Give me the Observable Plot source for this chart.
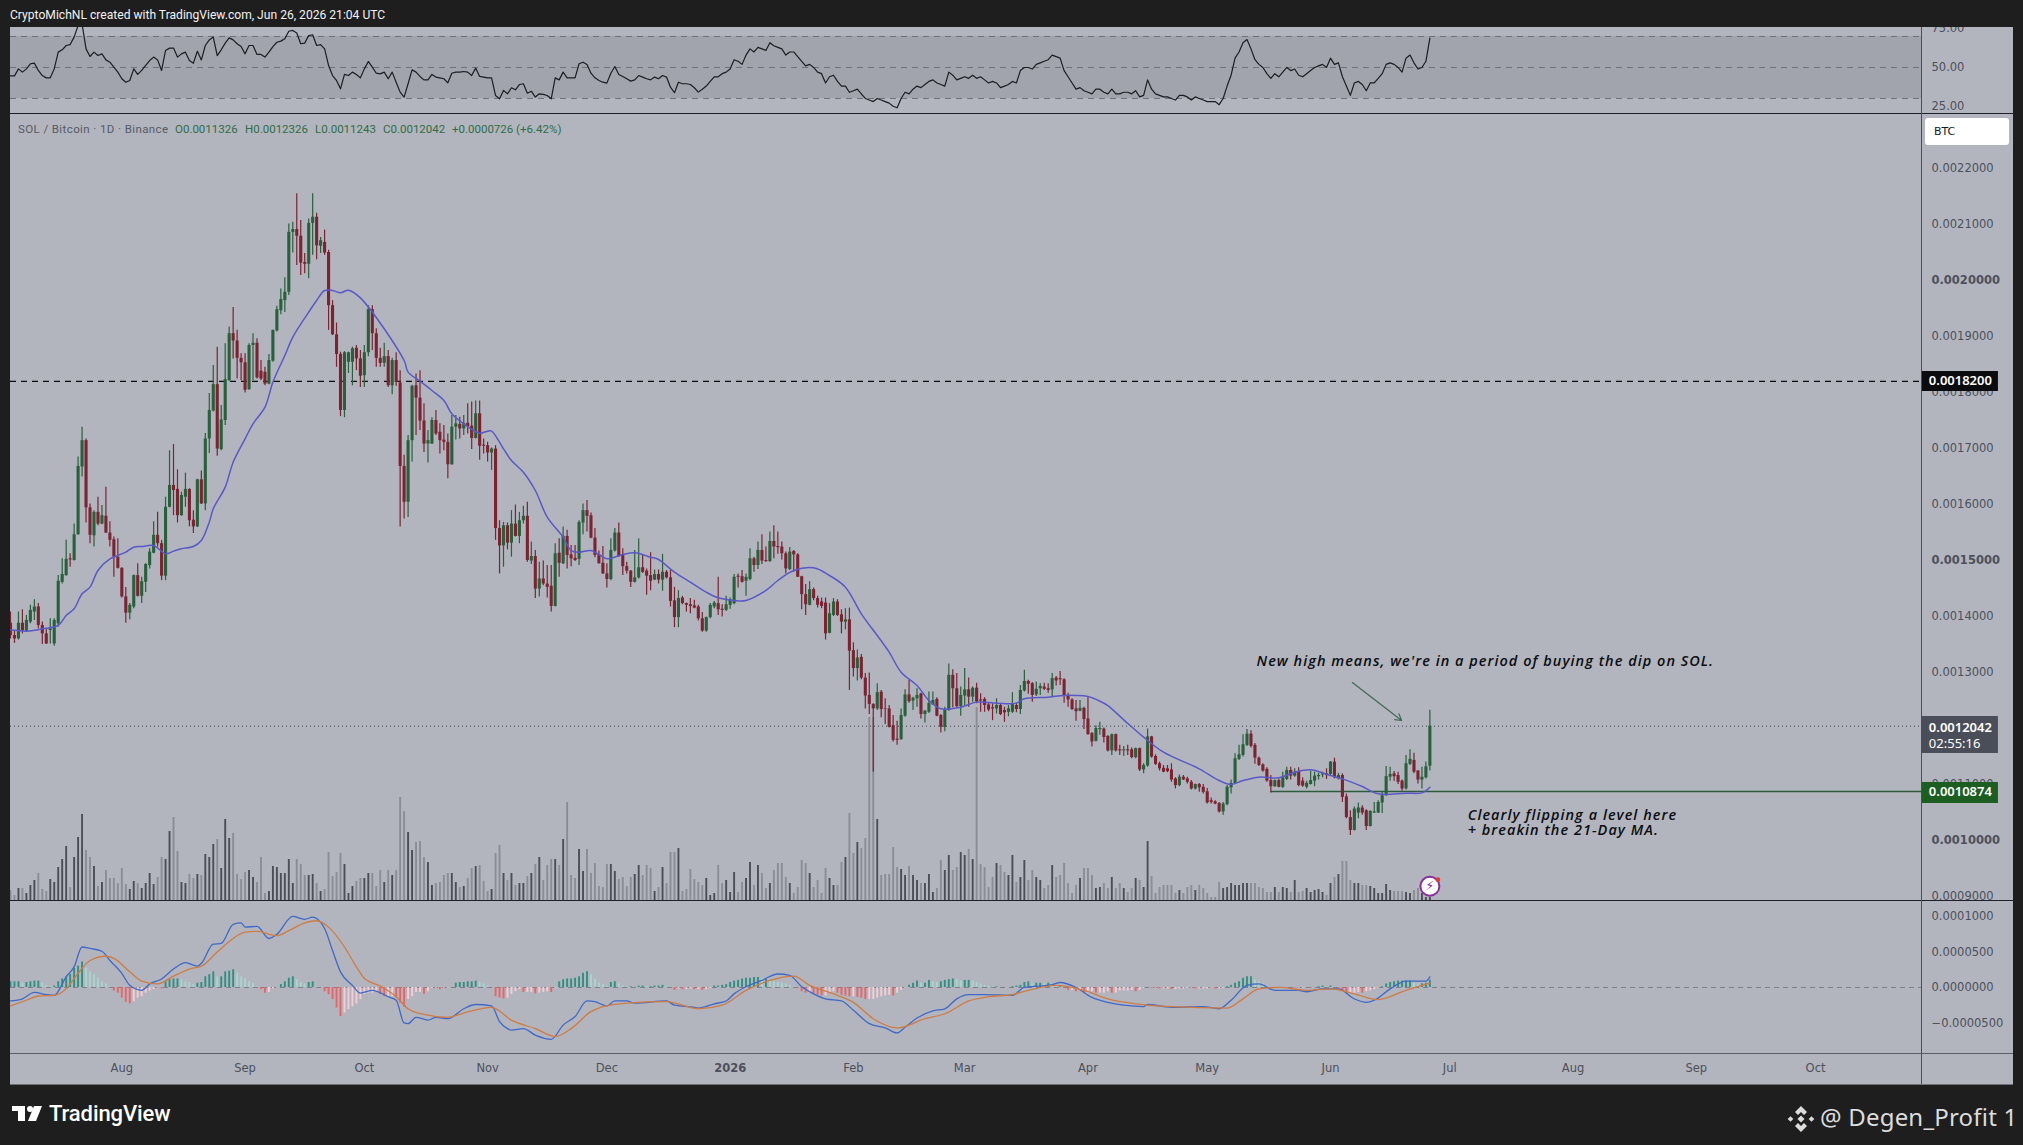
<!DOCTYPE html>
<html><head><meta charset="utf-8">
<script src="https://cdn.jsdelivr.net/npm/d3@7"></script>
<script src="https://cdn.jsdelivr.net/npm/@observablehq/plot@0.6"></script>
<style>
html,body{margin:0;padding:0;background:#1e1e1e;overflow:hidden}
#root{position:relative;width:2023px;height:1145px;background:#1e1e1e;font-family:Roboto,sans-serif;overflow:hidden}
#panel{position:absolute;left:10px;top:27px;width:2003px;height:1057px;background:#b2b5be}
.abs{position:absolute;white-space:pre}
.pane{position:absolute;left:10px}
.ln{position:absolute}
g[font-style="italic"] text{letter-spacing:1.03px}
</style></head><body><div id="root"><div id="panel"></div></div>
<script>
// prices in units of 0.0000001, one entry per daily candle starting 2025-07-04
const firstDay = new Date(Date.UTC(2025,6,4));
const opens = [13880,13660,13600,13880,13740,13900,14080,14170,13840,13690,
13750,13510,13870,14610,14730,15030,15000,15460,16670,17140,
15940,15440,15860,15650,15790,15490,15370,15060,14860,14350,
14060,14170,14730,14360,14610,14910,15130,15450,15300,14720,
15950,16340,16270,15800,16130,16270,15720,15600,16440,16010,
17170,17670,18140,16980,17500,18210,19050,18920,18610,18530,
18050,18840,18880,18380,18360,18150,18560,19100,19460,19640,
19790,20860,20910,20790,20320,20290,21020,21130,20610,20680,
20500,19550,19030,18680,17680,18540,18540,18790,18600,18300,
18710,19480,19050,18610,18520,18640,18120,18570,18170,16680,
16040,17140,18120,17900,17490,17080,17080,17500,17290,17150,
17110,16710,17380,17430,17350,17450,17400,17180,17620,17060,
17050,16920,16990,15570,15260,15620,15310,15650,15430,15710,
15790,14990,15070,14490,14670,14580,14540,14180,15130,14940,
15430,15100,15040,15020,15670,15890,15800,15400,15100,14950,
14760,14660,15170,15490,15090,14890,14810,14610,14690,14870,
14810,14730,14650,14750,14650,14790,14690,14280,13980,14330,
14230,14210,14190,14170,13960,13740,13980,14170,14230,14130,
14110,14200,14230,14720,14710,14630,14660,15030,14910,15180,
15000,14980,15340,15250,15240,15120,14840,15160,15100,14710,
14390,14200,14480,14320,14260,14240,13700,14020,14260,14030,
13900,13940,13390,13070,13270,12900,12590,12430,12350,12650,
12350,12350,12050,11810,11800,12220,12600,12490,12530,12620,
12250,12290,12420,12520,12230,12020,12320,12950,12710,12390,
12580,12690,12560,12720,12510,12520,12420,12370,12350,12410,
12320,12290,12290,12410,12340,12670,12840,12800,12600,12710,
12740,12710,12690,12900,12890,12870,12590,12510,12350,12310,
12360,12170,11910,11770,11980,11990,11860,11600,11890,11620,
11600,11620,11620,11480,11640,11260,11330,11850,11500,11370,
11290,11280,11260,11100,10980,11130,11100,11040,10920,11000,
10950,10870,10710,10690,10660,10510,10640,10940,11020,11450,
11520,11700,11900,11700,11470,11350,11270,11070,10960,11070,
10950,11090,11250,11150,11230,11060,10950,11000,11060,11140,
11170,11190,11180,11400,11100,11160,10780,10410,10180,10490,
10580,10530,10250,10490,10490,10670,10800,11130,11190,11160,
11060,10920,11360,11430,11240,11080,11120,11326];
const closes = [13660,13600,13880,13740,13930,14110,14170,13840,13690,13510,
13780,13930,14630,14750,15020,15010,15460,16680,17140,15940,
15450,15860,15650,15800,15490,15360,15060,14860,14350,14060,
14200,14730,14360,14620,14930,15150,15450,15300,14720,15950,
16340,16250,15800,16160,16270,15710,15600,16440,16010,17170,
17680,18140,16990,17510,18230,19050,18920,18610,18530,18040,
18840,18880,18260,18240,18150,18570,19110,19480,19660,19790,
20860,20910,20790,20310,20290,21020,21130,20620,20710,20490,
19550,19030,18680,17680,18710,18710,18780,18600,18290,18710,
19480,19050,18610,18520,18640,18120,18570,18180,16680,16040,
17140,18110,17900,17490,17080,17140,17500,17260,17140,17110,
16710,17380,17440,17350,17450,17390,17180,17620,17040,17040,
16920,16990,15570,15260,15620,15310,15650,15430,15710,15790,
15000,15070,14490,14670,14580,14520,14180,15120,14950,15430,
15090,15030,15000,15680,15890,15790,15400,15090,14940,14760,
14660,15180,15490,15070,14890,14810,14610,14690,14870,14790,
14720,14630,14750,14650,14790,14690,14270,13980,14320,14230,
14200,14180,14150,13960,13740,13980,14200,14240,14120,14110,
14210,14300,14700,14700,14610,14700,15030,14910,15180,14990,
14980,15340,15240,15230,15120,14850,15150,15100,14700,14390,
14210,14480,14320,14200,14180,13690,14050,14260,14020,13900,
13940,13380,13070,13260,12900,12580,12430,12350,12640,12340,
12340,12020,11790,11790,12230,12600,12480,12540,12590,12250,
12310,12450,12500,12220,12020,12330,12950,12710,12390,12590,
12690,12560,12720,12470,12490,12410,12330,12350,12410,12250,
12280,12350,12430,12340,12680,12840,12790,12590,12700,12750,
12700,12680,12890,12850,12870,12570,12510,12340,12300,12360,
12160,11890,11760,12000,12000,11840,11600,11890,11600,11600,
11620,11600,11480,11640,11260,11340,11850,11490,11360,11280,
11220,11230,11080,10980,11130,11080,11040,10920,11000,10940,
10860,10670,10680,10650,10510,10650,10950,11020,11460,11530,
11710,11900,11680,11470,11340,11240,11060,10960,11070,10950,
11120,11250,11150,11220,10980,10970,11020,11070,11150,11160,
11190,11160,11400,11120,11160,10770,10410,10180,10560,10580,
10490,10250,10520,10510,10680,10800,11140,11180,11140,11040,
10920,11370,11450,11220,11080,11130,11316,12042];
const highs = [14080,13750,14080,14120,14020,14200,14300,14230,13900,13780,
13960,13960,14730,15030,15360,15120,15650,16850,17380,17170,
16010,15890,16130,15980,16310,15690,15420,15390,14870,14520,
14230,14740,14940,14700,14940,15210,15690,15860,15360,16130,
16960,17070,16620,16220,16560,16280,15890,16450,16600,17270,
17980,18480,18810,17770,18870,19170,19520,19110,18690,18690,
18870,19050,18960,18570,18450,18680,19110,19540,19850,20050,
21010,21040,21550,21070,20480,21100,21550,21200,20770,20900,
20540,19640,19240,18720,18730,18720,18810,18840,18750,18840,
19550,19550,19140,18790,18880,18750,18610,18710,18390,16880,
17230,18130,18330,18390,17800,17320,17550,17680,17440,17410,
17260,17590,17590,17560,17590,17800,17830,17850,17850,17170,
17110,17010,17050,15710,15680,15670,15890,15990,15860,15970,
16040,15330,15180,14970,14990,14910,14910,15300,15390,15600,
15540,15270,15270,15710,16010,16070,15850,15570,15170,15250,
14940,15390,15570,15670,15210,14970,14820,15180,15390,15090,
14850,15140,14830,14830,15110,14820,14820,14520,14460,14360,
14240,14320,14290,14200,14070,13990,14230,14270,14700,14210,
14360,14330,14750,14760,14820,14760,15210,15060,15330,15460,
15240,15510,15620,15510,15330,15150,15230,15180,15120,14720,
14570,14620,14510,14360,14330,14330,14230,14320,14300,14120,
14140,14150,13530,13400,13320,12980,12990,12440,12800,12680,
12530,12410,12230,12130,12350,12690,12860,12560,12710,12630,
12320,12650,12650,12550,12250,12380,13150,13050,12980,12740,
13070,12900,12740,12810,12620,12550,12450,12440,12530,12440,
12380,12410,12640,12450,12770,13040,12860,12820,12830,12800,
12810,12800,12980,12930,13020,12890,12630,12530,12500,12500,
12380,12550,11930,12050,12110,12010,11870,11900,11900,11700,
11680,11700,11650,11650,11650,11370,11990,11860,11530,11400,
11340,11340,11370,11120,11170,11160,11130,11070,11010,11020,
11000,10930,10760,10710,10680,10680,10980,11080,11550,11700,
11890,11980,11960,11730,11490,11370,11300,11160,11080,11100,
11220,11310,11310,11280,11300,11120,11060,11240,11220,11200,
11220,11280,11410,11470,11200,11190,10830,10530,10600,10670,
10620,10550,10530,10680,10710,10860,11320,11310,11230,11220,
11080,11520,11620,11560,11250,11310,11400,12326];
const lows = [13600,13520,13580,13690,13720,13870,13930,13780,13500,13500,
13510,13470,13810,14580,14720,14880,14990,15450,16490,15670,
15300,15240,15620,15640,15480,15240,14700,14850,14330,13880,
13940,14140,14350,14230,14430,14850,15120,15240,14640,14640,
15940,15800,15670,15790,15950,15600,15480,15590,16000,15890,
16910,17650,16860,16960,17410,18200,18600,18240,18210,17990,
18040,18210,18240,18210,18120,18140,18540,19080,19390,19430,
19730,20490,20270,20090,20120,20030,20450,20370,20480,20450,
19110,19020,18450,17570,17550,18340,18120,18390,18090,18090,
18640,18750,18450,18450,18450,18090,17960,18110,15600,15740,
15770,16760,17230,17320,16930,16740,17070,17230,16900,16960,
16460,16700,17150,17170,17230,17260,16980,17170,16790,16900,
16760,16610,15360,14760,14880,15190,15060,15420,15300,15650,
14970,14930,14320,14350,14550,14330,14080,14170,14700,14930,
14850,14890,14980,14910,15460,15510,15390,15050,14940,14750,
14510,14640,15150,15060,14730,14760,14520,14600,14670,14770,
14380,14460,14640,14580,14450,14670,14170,13800,13800,14210,
14080,14050,14140,13920,13720,13720,13960,14140,14020,13990,
14090,14130,14210,14510,14600,14360,14640,14790,14840,14930,
14970,14970,15030,15110,15010,14760,14820,14790,14700,14120,
14020,14190,14280,14150,14140,13580,13690,14000,14000,13690,
13760,12680,12920,12850,12870,12350,12250,11220,12320,12190,
12070,12010,11760,11700,11790,12200,12450,12320,12380,12170,
12100,12270,12410,12210,11920,11940,12310,12370,12370,12220,
12410,12380,12470,12440,12290,12290,12300,12140,12260,12230,
12110,12210,12270,12280,12250,12650,12610,12470,12570,12590,
12680,12630,12550,12760,12770,12450,12380,12320,12130,12300,
11980,11880,11670,11760,11880,11740,11580,11520,11580,11520,
11500,11520,11460,11460,11230,11190,11310,11470,11340,11240,
11210,11210,11040,10920,10960,11070,11010,10900,10900,10860,
10830,10650,10650,10640,10490,10450,10620,10830,11000,11430,
11490,11680,11650,11360,11320,11220,11040,10850,10950,10940,
10930,11070,11080,11130,10960,10950,10920,10990,10960,11080,
11120,11090,11160,11100,11080,10680,10390,10090,10170,10390,
10450,10180,10240,10480,10480,10480,10790,11060,11060,11000,
10880,10900,11340,11190,11010,10920,11100,11243];
const volumes = [10,5,12,12,7,15,20,27,11,9,21,18,33,41,54,13,43,63,86,50,
43,34,14,18,30,22,22,17,32,16,11,19,17,12,17,27,16,23,43,41,
69,83,49,18,17,26,22,26,25,46,43,56,61,32,81,62,67,26,21,28,
30,23,18,43,7,9,34,33,27,27,41,17,41,36,25,25,26,17,9,11,
48,24,28,47,36,7,14,19,22,22,27,27,14,30,18,30,25,30,103,89,
68,50,58,59,43,38,15,17,18,25,27,27,18,13,14,22,32,34,35,19,
9,11,47,55,27,20,27,15,17,17,24,27,36,43,20,35,41,41,35,61,
98,25,22,51,29,51,27,37,14,13,36,36,29,21,23,14,23,26,35,25,
35,32,9,13,33,17,48,48,52,9,11,31,21,18,15,
22,5,7,35,17,20,8,28,8,18,22,38,15,35,27,12,17,30,37,37,23,17,7,13,40,37,27,13,20,7,32,22,15,15,38,43,87,47,58,52,62,183,183,81,
25,26,26,53,33,31,25,34,25,20,17,17,26,8,12,40,30,45,30,33,48,45,51,41,193,36,33,13,23,37,35,28,25,45,18,23,40,20,30,23,20,12,15,35,23,25,37,17,7,15,22,32,32,25,12,13,17,12,23,12,17,12,8,12,22,20,13,59,
24,7,13,15,15,15,7,10,7,13,15,10,15,12,7,3,3,18,12,13,17,15,15,17,17,17,17,13,12,8,8,13,8,13,12,8,20,8,
9,12,8,10,11,8,5,17,23,26,39,39,20,17,17,15,15,14,12,7,7,16,10,9,9,9,8,7,10,12,7,3,3];
const rsi = [44.6,44.6,49.1,47,49.1,52.4,52.8,48.1,44.8,43.3,43.3,49.1,59.9,61.4,64.2,64.8,69.6,77.1,78.2,62,
57.1,59.9,57.7,58.8,54.9,53.4,50.2,47,42.7,40.5,41.6,49.1,45.5,48.1,51.3,54.5,56.7,54.9,48.1,61,
62.5,62.5,56.7,58.8,59.9,54.5,52.8,60.5,54.9,64.2,67.8,69.6,57.7,61.4,65.7,69.1,67.8,65.3,63.5,58.8,
64.2,64.2,58.4,58.4,56.7,59.9,63.5,66.3,67,68.5,73.4,73.9,72.2,65.3,65.7,70.6,71.1,64.2,64.8,62,
51.3,44.8,41.6,36.2,45.5,44.8,47,45.5,43.3,49.1,53.9,50.2,46.3,45.9,47,42.7,47,40.5,34.1,30.9,
39.5,48.5,47,44.2,42,42,45.5,43.8,43.3,42.7,40.1,46.3,47,47,47.4,47,44.8,49.6,44.2,43.8,
43.3,43.3,31.9,29.8,35.2,33,36.9,35.6,39,39.5,33.4,34.7,30.9,33,32.6,31.9,29.8,43.3,42,47,
43.3,43.3,43.3,52.4,53.4,51.9,46.3,43.3,41.6,40.5,39.9,46.3,50.6,45.5,44.2,42.7,41.2,42,44.8,43.8,
42.7,42,43.8,42.7,44.8,43.8,37.3,33.7,40.5,39.5,39.5,39,36.9,34.1,
36,38,41,44,44,46,47,49,55,54,52,58,62,60,63,62,61,66,64,63,62,58,60,60,57,54,51,52,50,47,46,
40,44,45,41,38,38,34,35,36,33,30,29,28,30,29,28,27,25,24,30,34,33,36,38,37,39,41,42,40,39,38,
47,45,42,43,44,43,45,43,44,42,40,41,40,37,38,39,41,40,48,50,50,49,52,53,54,55,58,57,56,48,44,40,
36,37,35,34,33,36,36,34,33,36,33,33,34,34,33,35,31,32,42,36,33,32,31,31,30,29,32,32,31,29,31,30,29,28,28,28,26,30,
38,45,56,60,66,68,62,55,52,50,46,43,46,44,47,50,48,49,45,44,46,48,50,51,52,50,56,52,53,44,38,32,40,41,39,35,40,40,43,46,52,53,52,50,47,56,58,53,49,50,54,69];
const macdHist = [8,8,8,6,7,8,9,9,6,3,1,2,8,12,15,18,27,30,36,27,
22,18,13,8,5,1,-5,-8,-15,-21,-23,-20,-15,-13,-8,-5,-3,-1,-2,8,
11,12,12,11,8,7,4,6,7,15,18,22,15,15,22,23,25,20,15,12,
8,6,1,-3,-8,-7,-2,0,4,8,13,15,11,7,5,7,8,1,0,-6,
-10,-17,-29,-41,-36,-31,-27,-23,-17,-10,-8,-8,-6,-10,-13,-13,-13,-15,-22,-28,
-17,-13,-7,-7,-10,-6,-1,-1,-3,-1,-1,0,6,7,7,8,8,9,7,5,
2,0,-13,-15,-16,-15,-10,-6,-3,-7,-7,-7,-9,-8,-7,-6,-7,-1,8,11,
12,12,13,15,20,22,18,12,6,4,2,7,8,5,2,1,1,0,2,2,
1,1,2,2,3,1,0,-4,-2,-3,-3,-2,-3,-3,-4,-3,-1,2,2,3,
4,7,9,10,12,13,13,14,14,12,12,10,8,7,6,5,3,1,-1,-6,
-8,-8,-9,-11,-12,-12,-8,-6,-8,-11,-12,-13,-13,-14,-15,-17,-17,-17,-15,-13,
-12,-11,-12,-8,-4,-1,3,6,9,6,6,10,8,7,8,10,11,12,11,9,
10,10,9,7,5,3,2,1,1,0,0,0,1,2,3,7,8,5,6,6,
5,6,5,2,2,-1,-4,-4,-6,-4,-8,-8,-6,-8,-8,-8,-6,-8,-8,-5,
-5,-5,-4,-6,-4,-1,0,-1,-1,-2,-2,-2,-3,-3,-2,-2,-1,-1,-2,-2,
-2,-2,-1,-2,-2,-1,1,3,6,8,13,15,15,10,8,5,2,0,0,-1,
-1,0,0,-1,-1,-1,0,-1,0,1,2,1,2,0,-1,-5,-8,-8,-8,-7,
-8,-6,-5,-3,-1,1,5,7,8,9,9,9,9,6,5,5,6,10];
// line vertices: day index after firstDay, value
const macdDays = [0,3,6,9,11,14,16,18,20,23,25,28,30,33,35,38,41,44,47,48,51,53,56,58,59,62,65,67,71,74,76,79,81,83,86,88,91,95,97,99,100,102,105,107,110,114,117,121,123,125,126,129,132,136,139,142,145,147,150,152,155,157,165,167,172,
173,177,180,182,185,189,193,196,199,202,205,209,212,216,220,223,225,228,232,235,238,241,245,252,255,262,264,268,272,276,280,285,286,292,300,304,307,311,314,318,324,326,330,334,338,341,343,347,351,356,357];
const macdLine = [-19,-16,-7,-10,-11,15,29,57,55,51,38,20,3,-4,5,12,26,35,30,34,61,62,89,91,85,86,69,75,100,96,99,83,52,22,3,-8,-4,-13,-18,-50,-51,-42,-46,-42,-44,-30,-24,-26,-48,-58,-60,-58,-67,-73,-53,-41,-19,-20,-26,-19,-19,-22,-19,-25,-28,
-29,-23,-19,-9,1,10,19,17,1,-9,-16,-19,-32,-51,-57,-64,-56,-43,-33,-30,-16,-10,-10,-11,0,4,7,0,-14,-21,-25,-27,-24,-28,-27,-30,-18,3,5,-4,-4,-6,-2,-2,-16,-21,-18,-2,9,9,15];
const signalDays = [0,4,7,11,14,17,20,24,26,30,33,37,41,45,48,52,56,59,62,67,70,74,77,80,84,87,89,93,97,100,104,110,114,121,126,132,137,141,146,149,155,165,
173,179,185,191,197,201,208,212,217,223,230,235,241,246,252,256,263,270,276,283,292,306,310,314,319,326,332,338,344,351,357];
const signalLine = [-26,-18,-12,-11,-2,20,38,44,41,22,9,5,16,26,30,50,69,78,79,73,80,91,94,85,57,29,13,2,-13,-30,-38,-42,-36,-28,-46,-58,-69,-58,-34,-27,-22,-20,
-30,-25,-4,10,16,3,-11,-21,-44,-57,-44,-37,-19,-13,-10,-4,3,-4,-16,-23,-27,-29,-16,-2,0,-4,-2,-9,-17,-4,6];
const maDays = [0,4,8,12,14,16,18,20,22,25,27,29,31,33,36,39,41,43,46,48,50,51,54,56,59,61,64,66,69,71,75,77,79,81,83,85,88,99,100,103,106,109,111,114,118,120,121,124,126,129,132,135,139,141,143,146,148,150,154,157,161,163,167,171,175,178,182,185,190,193,197,202,206,210,214,218,221,224,228,231,234,239,243,248,253,255,261,265,268,271,274,276,280,285,290,299,304,307,310,314,319,323,327,332,335,340,344,351,355,357];
const maValues = [13762,13738,13780,13840,14018,14137,14405,14524,14822,15030,15090,15150,15238,15250,15268,15119,15167,15209,15250,15357,15685,15923,16310,16756,17173,17441,17738,18185,18661,18988,19435,19643,19821,19821,19780,19827,19690,18571,18363,18202,18035,17857,17619,17440,17273,17310,17310,16994,16785,16577,16250,15774,15417,15178,15149,15178,15107,15030,15107,15137,15059,15018,14792,14613,14434,14334,14286,14286,14465,14643,14822,14869,14732,14524,14048,13661,13363,13006,12768,12500,12352,12381,12471,12453,12453,12530,12560,12590,12589,12571,12488,12410,12155,11845,11577,11280,11071,11000,11071,11131,11119,11220,11262,11161,11101,10964,10833,10845,10851,10952];
// axes
const mainTicks = [22000,21000,19000,18000,17000,16000,14000,13000,12000,11000,9000];
const mainBoldTicks = [20000,15000,10000];
const rsiTicks = [75,50,25];
const macdTicks = [100,50,0,-50];
const monthTicks = [[2025,7],[2025,8],[2025,9],[2025,10],[2025,11],[2026,1],[2026,2],[2026,3],[2026,4],[2026,5],[2026,6],[2026,7],[2026,8],[2026,9]];
const month = ["Jan","Feb","Mar","Apr","May","Jun","Jul","Aug","Sep","Oct","Nov","Dec"];
const notes = ["New high means, we're in a period of buying the dip on SOL.","Clearly flipping a level here\n+ breakin the 21-Day MA."];

const DAY = 864e5;
const day = k => new Date(firstDay.getTime() + k*DAY);
const x0 = day(0), x1 = day(480.65);
const candles = opens.map((o,i)=>({date:day(i),o:o/1e7,h:highs[i]/1e7,l:lows[i]/1e7,c:closes[i]/1e7,v:volumes[i]??0,up:closes[i]>=o}));
const fmt = d=>d.toFixed(7);
const root = document.getElementById("root");
const GREEN="#27603a", RED="#7c2231", AXIS="#4c505b", FF="DejaVu Sans, sans-serif";
function pane(top,height,yDom,marks,extra={}){
  const svg = Plot.plot({width:2003,height,marginLeft:0,marginRight:92,marginTop:0,marginBottom:0,
    x:{type:"utc",domain:[x0,x1],axis:null},
    y:{domain:yDom,range:[0,height],axis:null},
    style:{background:"transparent",fontFamily:FF,overflow:"hidden"},
    marks,...extra});
  svg.classList.add("pane"); svg.style.top=top+"px"; svg.style.position="absolute"; svg.style.left="10px";
  root.appendChild(svg); return svg;
}
const yAxis = (ticks,f,w="400")=>Plot.axisY({anchor:"right",ticks,tickFormat:f,tickSize:0,tickPadding:10,fontSize:11.5,fontWeight:w,fill:AXIS,label:null,textAnchor:"start"});
// RSI
pane(27,86,[75.8,20.3],[
  Plot.rect([0],{x1:()=>x0,x2:()=>x1,y1:()=>30,y2:()=>70,fill:"#a1a4ac"}),
  Plot.ruleY([70,50,30],{stroke:"#6f727b",strokeDasharray:"6 5",strokeWidth:1}),
  Plot.line(rsi.map((v,i)=>({d:day(i),v})),{x:"d",y:"v",stroke:"#1b1d22",strokeWidth:1.2,curve:"linear",clip:true}),
  yAxis(rsiTicks,d=>d.toFixed(2))
]);
// Volume behind candles
pane(113,787,[787,0],[
  Plot.ruleX(candles,{x:"date",y1:0,y2:"v",stroke:d=>d.up?"#4b4e56":"#8a8d95",strokeWidth:1.9})
]);
// Price
const P=v=>v/1e7;
const tagBoxes=[{a:18375,b:18018,f:"#0b0c0e"},{a:12214,b:11554,f:"#4a4e59"},{a:11036,b:10661,f:"#1b5e20"}];
const tagBold=[{p:18200,t:"0.0018200"},{p:12018,t:"0.0012042"},{p:10874,t:"0.0010874"}];
const tagPlain=[{p:11732,t:"02:55:16"}];
const tagFont={textAnchor:"start",fontSize:13,fontFamily:"Noto Sans",fill:"#fff"};
pane(113,787,[0.00229821,0.00089286],[
  yAxis(mainTicks.map(P),fmt),yAxis(mainBoldTicks.map(P),fmt,"700"),
  Plot.ruleY([P(18200)],{x1:x0,x2:x1,stroke:"#0b0c0e",strokeDasharray:"6 5",strokeWidth:1.2}),
  Plot.ruleY([P(12042)],{x1:x0,x2:x1,stroke:"#41454e",strokeDasharray:"1 3",strokeWidth:1}),
  Plot.ruleY([P(10874)],{x1:day(317),x2:x1,stroke:"#2d5c3c",strokeWidth:1.6}),
  Plot.ruleX(candles,{x:"date",y1:"l",y2:"h",stroke:d=>d.up?GREEN:RED,strokeWidth:1.2}),
  Plot.ruleX(candles,{x:"date",y1:d=>Math.min(d.o,d.c),y2:d=>Math.max(d.o,d.c),stroke:d=>d.up?GREEN:RED,strokeWidth:3.1}),
  Plot.line(maDays.map((k,i)=>({d:day(k),v:P(maValues[i])})),{x:"d",y:"v",stroke:"#5a58c8",strokeWidth:1.5,curve:"catmull-rom"}),
  Plot.arrow([{}],{x1:()=>day(337.5),y1:()=>P(12821),x2:()=>day(349.9),y2:()=>P(12143),stroke:"#3f6a52",strokeWidth:1.2,headLength:9,bend:0}),
  Plot.text([notes[0]],{x:()=>day(313.4),y:()=>P(13205),text:d=>d,textAnchor:"start",fontStyle:"italic",fontWeight:"600",fontSize:14.5,fontFamily:"Open Sans",fill:"#0c0d10"}),
  Plot.text([notes[1]],{x:()=>day(366.5),y:()=>P(10325),text:d=>d,textAnchor:"start",lineHeight:1.06,fontStyle:"italic",fontWeight:"600",fontSize:14.5,fontFamily:"Open Sans",fill:"#0c0d10"}),
  Plot.dot([0],{x:()=>day(357),y:()=>P(9185),r:9.5,fill:"#fff",stroke:"#8a2e9c",strokeWidth:2}),
  Plot.text(["⚡"],{x:()=>day(357),y:()=>P(9185),text:d=>d,fill:"#8a2e9c",fontSize:13}),
  Plot.dot([0],{x:()=>day(359),y:()=>P(9300),r:2.4,fill:"#e03a3a"}),
  Plot.rect(tagBoxes,{x1:()=>x1,x2:()=>day(500),y1:d=>P(d.a),y2:d=>P(d.b),fill:"f"}),
  Plot.text(tagBold,{x:()=>day(482.5),y:d=>P(d.p),text:"t",fontWeight:"600",...tagFont}),
  Plot.text(tagPlain,{x:()=>day(482.5),y:d=>P(d.p),text:"t",fontWeight:"400",...tagFont})
]);
// MACD
const hist = macdHist.map((v,i)=>{const p=i?macdHist[i-1]:v;return{d:day(i),v,c:v>=0?(v>=p?"#2f9082":"#a9d5cf"):(v<p?"#ea6363":"#f6cdd2")};});
pane(900,153,[122.5,-93],[
  Plot.ruleY([0],{x1:x0,x2:x1,stroke:"#7d8089",strokeDasharray:"5 4",strokeWidth:1}),
  Plot.ruleX(hist,{x:"d",y1:0,y2:"v",stroke:"c",strokeWidth:1.9}),
  Plot.line(macdDays.map((k,i)=>({d:day(k),v:macdLine[i]})),{x:"d",y:"v",stroke:"#3f68c8",strokeWidth:1.3,curve:"monotone-x"}),
  Plot.line(signalDays.map((k,i)=>({d:day(k),v:signalLine[i]})),{x:"d",y:"v",stroke:"#d07b42",strokeWidth:1.3,curve:"monotone-x"}),
  yAxis(macdTicks,d=>(d<0?"\u2212":"")+(Math.abs(d)/1e6).toFixed(7))
]);
// Time axis
const monthDates = monthTicks.map(([y,m])=>new Date(Date.UTC(y,m,1))).filter(d=>d.getUTCMonth()!==0);
const axisX=(ticks,w)=>Plot.axisX({anchor:"bottom",ticks,tickFormat:d=>d.getUTCMonth()===0?"2026":month[d.getUTCMonth()],tickSize:0,tickPadding:0,fontSize:11.5,fontWeight:w,fill:AXIS,label:null});
pane(1053,31,[1,0],[axisX(monthDates,"400"),axisX([new Date(Date.UTC(2026,0,1))],"700")],{marginBottom:21,y:{domain:[1,0],range:[0,10],axis:null}});

// chrome
function ln(l,t,w,h,c){const d=document.createElement("div");d.className="ln";Object.assign(d.style,{left:l+"px",top:t+"px",width:w+"px",height:h+"px",background:c});root.appendChild(d);}
ln(10,113,2003,1,"#1d2028");ln(10,900,2003,1,"#1d2028");ln(10,1053,2003,1,"#5b5e68");ln(1921,27,1,1057,"#4a4d57");ln(10,1084,2003,1,"#6e717a");
function tx(s,l,t,css){const d=document.createElement("div");d.className="abs";d.textContent=s;Object.assign(d.style,{left:l+"px",top:t+"px"},css);root.appendChild(d);return d;}
tx("CryptoMichNL created with TradingView.com, Jun 26, 2026 21:04 UTC",10,8,{color:"#f2f2f2",fontSize:"12.1px",lineHeight:"15px"});
const LEG={fontSize:"11.5px",lineHeight:"14px"};
tx("SOL / Bitcoin · 1D · Binance",18,122,{...LEG,color:"#555a66",letterSpacing:".4px"});
[["O0.0011326",175],["H0.0012326",245],["L0.0011243",315],["C0.0012042",383],["+0.0000726 (+6.42%)",452]].forEach(([s,l])=>tx(s,l,122,{...LEG,color:"#2f6d45"}));
tx("BTC",1925,118,{width:"75px",height:"27px",paddingLeft:"9px",background:"#fff",borderRadius:"3px",fontFamily:FF,fontSize:"11px",lineHeight:"27px",color:"#131722"});
tx("TradingView",49,1100,{color:"#fff",fontSize:"22px",fontWeight:"500",lineHeight:"28px",fontFamily:"Roboto",letterSpacing:"-.1px"});
tx("@ Degen_Profit 1",1820,1100,{color:"#dcdcdc",fontSize:"24px",lineHeight:"34px",fontFamily:"Noto Sans",letterSpacing:".2px"});
const ns="http://www.w3.org/2000/svg";
function icon(l,t,w,h,inner){const s=document.createElementNS(ns,"svg");s.setAttribute("width",w);s.setAttribute("height",h);s.setAttribute("viewBox",`0 0 ${w} ${h}`);s.style.position="absolute";s.style.left=l+"px";s.style.top=t+"px";s.innerHTML=inner;root.appendChild(s);}
icon(12,1106,30,16,'<rect x="0" y="0" width="13" height="5" fill="#fff"/><rect x="6" y="0" width="7" height="15" fill="#fff"/><circle cx="18" cy="3" r="3" fill="#fff"/><path d="M22 0h8l-6 15h-8z" fill="#fff"/>');
icon(1787,1105,28,28,'<g fill="#dcdcdc"><path d="M14 1l6 6-3 3-3-3-3 3-3-3z"/><path d="M14 27l6-6-3-3-3 3-3-3-3 3z"/><rect x="11.5" y="11.5" width="5" height="5" transform="rotate(45 14 14)"/><rect x="1.5" y="12" width="4" height="4" transform="rotate(45 3.5 14)"/><rect x="22.5" y="12" width="4" height="4" transform="rotate(45 24.5 14)"/></g>');
</script></body></html>
